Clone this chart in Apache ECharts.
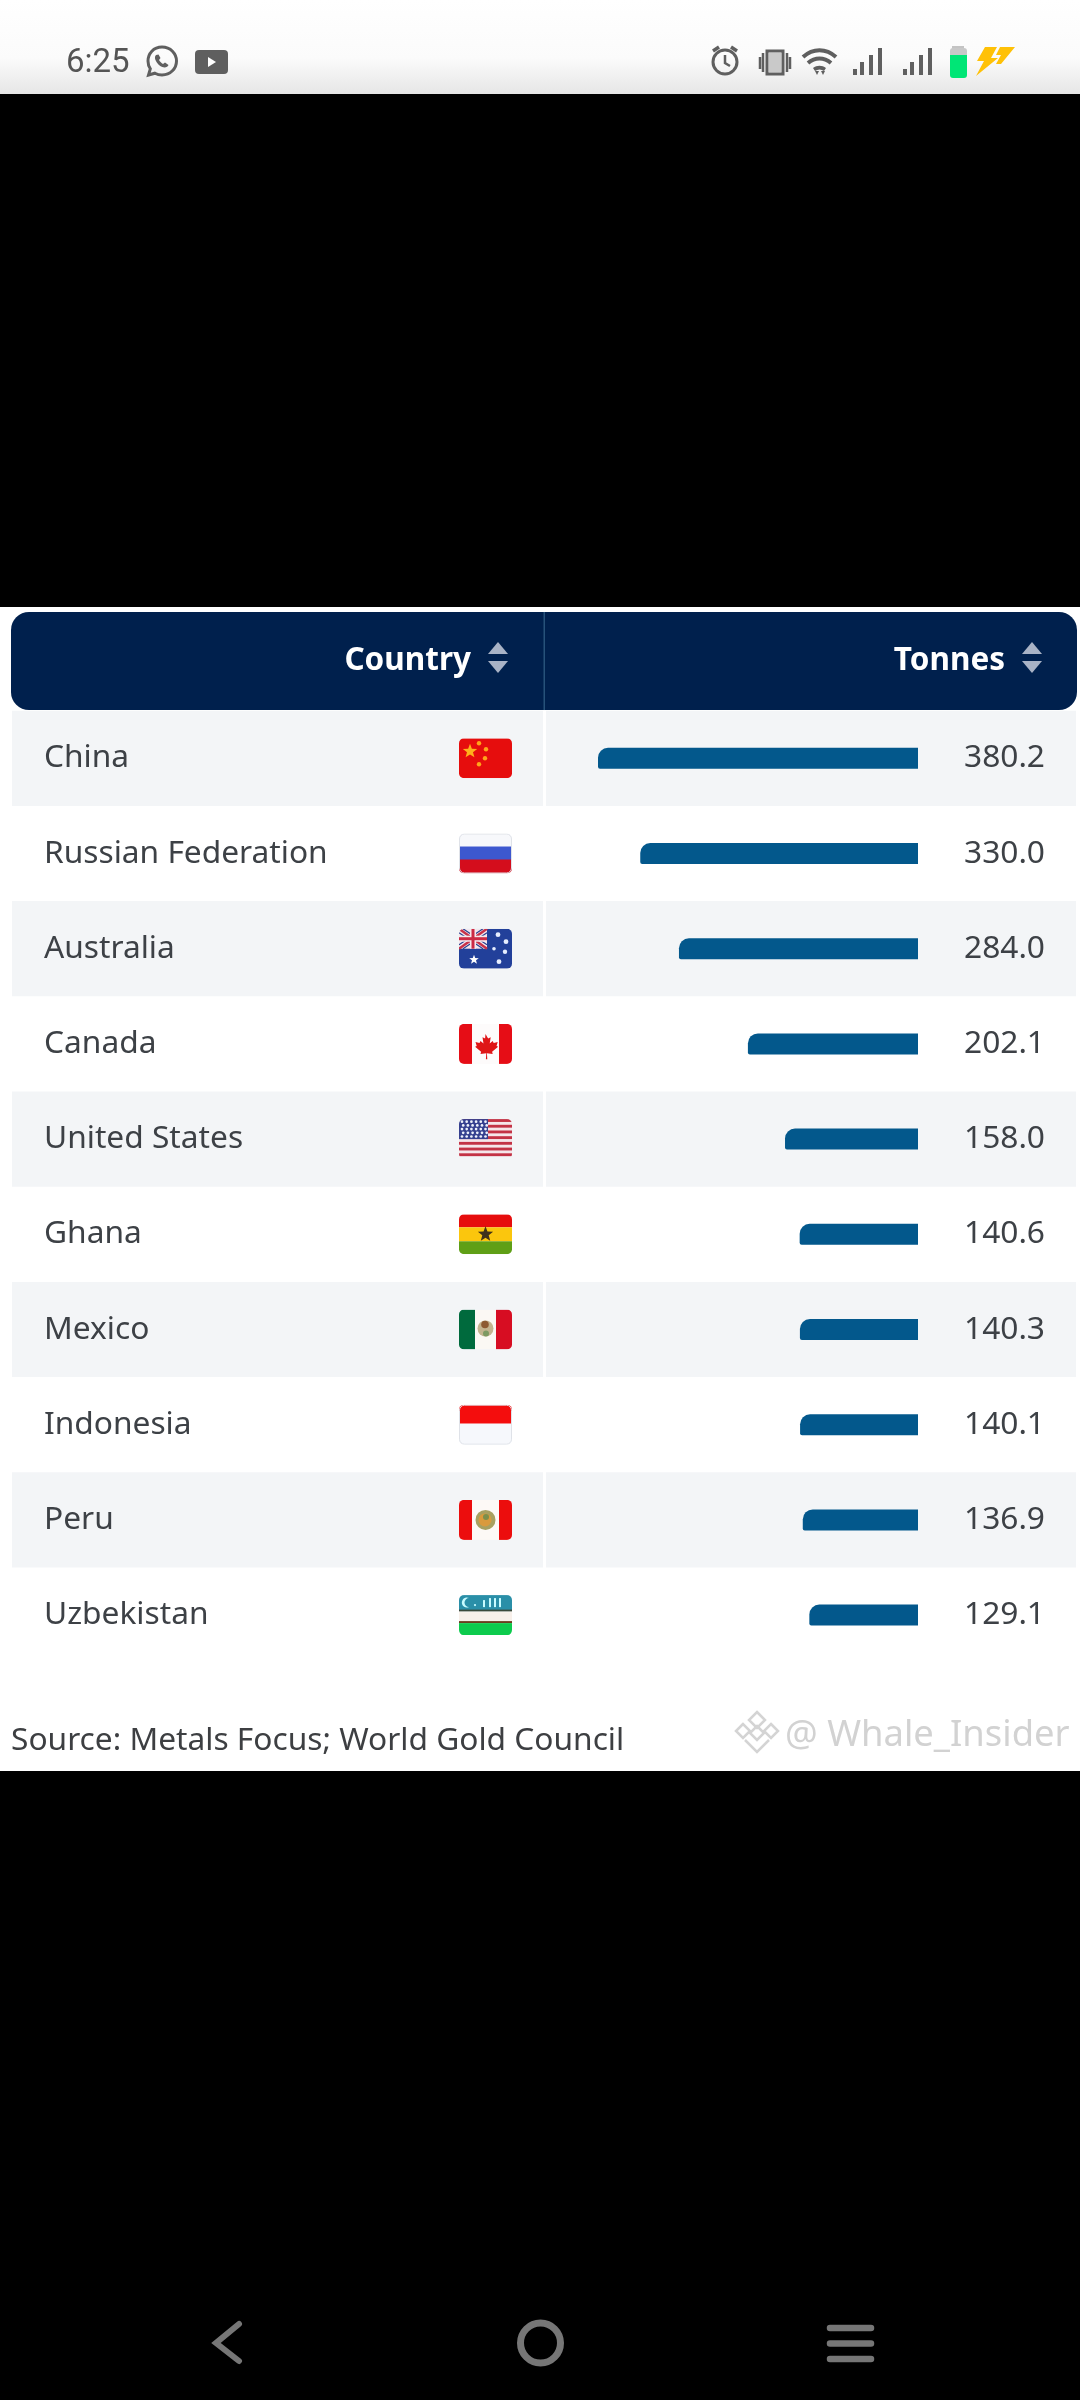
<!DOCTYPE html>
<html>
<head>
<meta charset="utf-8">
<script src="https://cdn.jsdelivr.net/npm/echarts@6/dist/echarts.min.js"></script>
<style>html,body{margin:0;padding:0;background:#000}#c{width:1080px;height:2400px}</style>
</head>
<body>
<div id="c"></div>
<script>
var countries = ['China','Russian Federation','Australia','Canada','United States','Ghana','Mexico','Indonesia','Peru','Uzbekistan'];
var tonnes = [380.2,330.0,284.0,202.1,158.0,140.6,140.3,140.1,136.9,129.1];
var flagCodes = ['cn','ru','au','ca','us','gh','mx','id','pe','uz'];
var headers = ['Country','Tonnes'];
var sourceText = 'Source: Metals Focus; World Gold Council';
var watermarkText = 'Whale_Insider';
var statusTime = '6:25';

var FONT = '"Noto Sans", sans-serif';
var TEXT = '#3d4146', ROW = '#f3f5f7', NAVY = '#00204d', BAR = '#03588c';
var ROW_TOP = 710.7, ROW_H = 95.2, GRID_L = 598, GRID_R = 918;

function star(cx, cy, r, fill) {
  var p = [];
  for (var i = 0; i < 10; i++) {
    var a = -Math.PI / 2 + i * Math.PI / 5, q = i % 2 ? r * 0.42 : r;
    p.push((cx + q * Math.cos(a)).toFixed(2) + ',' + (cy + q * Math.sin(a)).toFixed(2));
  }
  return '<polygon points="' + p.join(' ') + '" fill="' + fill + '"/>';
}
function R(x, y, w, h, f) { return '<rect x="' + x + '" y="' + y + '" width="' + w + '" height="' + h + '" fill="' + f + '"/>'; }
function C(x, y, r, f) { return '<circle cx="' + x + '" cy="' + y + '" r="' + r + '" fill="' + f + '"/>'; }

var flagArt = {
  cn: function () { return R(0,0,53,40,'#e60f0c') + star(11,13,7.5,'#ffb01a') + C(20,5,2.2,'#ffa51a') + C(27,11,2.2,'#ffa51a') + C(26,20,2.2,'#ffa51a') + C(20,26,2.2,'#ffa51a'); },
  ru: function () { return R(0,0,53,13,'#f7f8fb') + R(0,13,53,14,'#3e58cf') + R(0,26,53,14,'#d40b1a'); },
  au: function () {
    var s = R(0,0,53,40,'#23409a') + R(0,0,28,20,'#f3e6ec');
    s += '<path d="M0 0L28 20M28 0L0 20" stroke="#c8334a" stroke-width="2.5"/><path d="M0 4L24 20M4 0L28 16M28 4L4 20M24 0L0 16" stroke="#2a3f8f" stroke-width="1.2"/>';
    s += R(11,0,6,20,'#f5e9ee') + R(0,7,28,6,'#f5e9ee') + R(12.5,0,3,20,'#cc2c44') + R(0,8.5,28,3,'#cc2c44');
    return s + star(15,31,5,'#fff') + C(39,6,2.4,'#e6eeff') + C(47,13,2.4,'#e6eeff') + C(35,20,1.8,'#e6eeff') + C(46,23,2.2,'#e6eeff') + C(40,33,2.4,'#e6eeff');
  },
  ca: function () {
    return R(0,0,53,40,'#fdfbfb') + R(0,0,13,40,'#e60f14') + R(40,0,13,40,'#e60f14') +
      '<path d="M26.5 10l2.6 4.5 2.6-1.2-1 6.3 3-2.6 1 2 4-.8-1.2 3.8 1.6.9-6 5 .6 2.2-5.8-.8.4 6h-1.4l.4-6-5.8.8.6-2.2-6-5 1.6-.9-1.2-3.8 4 .8 1-2 3 2.6-1-6.3 2.6 1.2z" fill="#df1218"/>';
  },
  us: function () {
    var s = R(0,0,53,37,'#f5e6ea');
    for (var i = 0; i < 7; i++) s += R(0, i * 5.7, 53, 2.85, '#c33245');
    s += R(0,0,29,20,'#34418f');
    for (var r = 0; r < 5; r++) for (var c = 0; c < 6; c++) s += C(3 + c * 4.7 + (r % 2) * 1.2, 2.6 + r * 3.7, 1.35, '#eef1fb');
    return s;
  },
  gh: function () { return R(0,0,53,13,'#e60d0a') + R(0,13,53,14,'#fbc60a') + R(0,27,53,13,'#5e9f12') + star(26.5,20,8,'#40301a'); },
  mx: function () { return R(0,0,16,40,'#026a3c') + R(16,0,21,40,'#fbf8f4') + R(37,0,16,40,'#d70a22') + C(26.5,19,8,'#c3b48f') + C(26,15,3.8,'#8d5a32') + C(27,24,3,'#7d9a63'); },
  id: function () { return R(0,0,53,19,'#f40b0e') + R(0,19,53,21,'#f6f8fc'); },
  pe: function () { return R(0,0,13,40,'#ec0d10') + R(13,0,27,40,'#fdf9f6') + R(40,0,13,40,'#ec0d10') + C(26.5,20,10,'#a8a060') + C(26,20,6.5,'#d99a3c') + C(27,17,3,'#7c8f4c'); },
  uz: function () {
    var s = R(0,0,53,16,'#2a8fa8') + R(0,14.5,53,2,'#3a4a3a') + R(0,16.5,53,9.5,'#f8f0ea') + R(0,26,53,2,'#6a3d1a') + R(0,28,53,12,'#10cb4e');
    s += '<path d="M10 3a5 5 0 1 0 0 9a4 4 0 1 1 0-9z" fill="#c8fbff"/>';
    s += C(16,10,1.1,'#c8fbff') + R(24,5,2,7,'#c8fbff') + R(30,3,2,9,'#c8fbff') + R(35,3,2,9,'#c8fbff') + R(40,3,2,9,'#c8fbff');
    return s;
  }
};
function uri(svg) { return 'data:image/svg+xml;charset=utf-8,' + encodeURIComponent(svg); }
function flagSvg(code) {
  return uri('<svg xmlns="http://www.w3.org/2000/svg" width="212" height="160" viewBox="0 0 53 40">' +
    '<defs><clipPath id="k"><rect width="53" height="40" rx="5"/></clipPath><filter id="b" x="-5%" y="-5%" width="110%" height="110%"><feGaussianBlur stdDeviation="0.4"/></filter></defs>' +
    '<g clip-path="url(#k)"><g filter="url(#b)">' + flagArt[code]() + '</g></g>' +
    (code === 'id' || code === 'ru' ? '<rect x=".5" y=".5" width="52" height="39" rx="5" fill="none" stroke="#dfe2e8" stroke-width="1"/>' : '') +
    '</svg>');
}

var statusSvg = uri('<svg xmlns="http://www.w3.org/2000/svg" width="1080" height="94" viewBox="0 0 1080 94">' +
  '<g fill="none" stroke="#5f5f5f">' +
  '<path d="M162 47c-8.500 0-14 6.500-14 14 0 3 .8 5.500 2.300 7.800l-1.800 6.200 6.400-1.800c2.200 1.200 4.600 1.800 7.100 1.800 8.500 0 14.500-6.500 14.500-14s-6-14-14.500-14z" stroke-width="3"/>' +
  '<path d="M156 55c-1.500 1.500-1.500 4 .5 7 2 3 5 5.500 8 5.500 2 0 3.500-1 4-2.500l-3.500-2.500-2 1.500c-1.500-.8-3-2.500-4-4l1.500-2-2-3.500z" fill="#5f5f5f" stroke="none"/>' +
  '<circle cx="725" cy="62" r="12" stroke-width="3"/><path d="M725 55v8l5 3" stroke-width="2.500"/><path d="M713 51l6-4M737 51l-6-4" stroke-width="3.500"/>' +
  '<rect x="767" y="51" width="16" height="23" stroke-width="3"/><path d="M760 57v12M763 53v19M787 53v19M790 57v12" stroke-width="2.500"/>' +
  '<path d="M803 57c10-9 23-9 33 0M808 63c7-6 16-6 23 0" stroke-width="4"/>' +
  '</g>' +
  '<rect x="769" y="53" width="12" height="19" fill="#c9c9c9"/>' +
  '<path d="M813 68c4-3 9-3 13 0l-2 3c-3-2-6-2-9 0zM815 71h4l-2 4zM821 71h4l-2 4z" fill="#5f5f5f"/>' +
  '<rect x="195" y="50" width="33" height="24" rx="4" fill="#5f5f5f"/><path d="M208 57v10l8-5z" fill="#fff"/>' +
  R(853,69,4,6,'#5f5f5f') + R(860,62,4,13,'#5f5f5f') + R(869,55,4,20,'#5f5f5f') + R(878,48,4,27,'#5f5f5f') +
  R(903,69,4,6,'#5f5f5f') + R(910,62,4,13,'#5f5f5f') + R(919,55,4,20,'#5f5f5f') + R(928,48,4,27,'#5f5f5f') +
  '<rect x="952" y="46" width="12" height="3" fill="#c4c4c4"/><rect x="950" y="48" width="17" height="10" rx="3" fill="#c8c8c8"/>' +
  '<path d="M950 55h17v20a3 3 0 0 1-3 3h-11a3 3 0 0 1-3-3z" fill="#00e676"/>' +
  '<path d="M985 47h12l-6 11h7l-22 18 8-15h-7zM1000 47h15l-14 17h-5l5-9h-5z" fill="#ffc107"/>' +
  '</svg>');

var navSvg = uri('<svg xmlns="http://www.w3.org/2000/svg" width="1080" height="100" viewBox="0 0 1080 100">' +
  '<g fill="none" stroke="#767676" stroke-linecap="round">' +
  '<path d="M239 24L216 43L239 61" stroke-width="6"/>' +
  '<ellipse cx="540.500" cy="43" rx="20" ry="20" stroke-width="7"/>' +
  '<path d="M830 28h41M830 43.500h41M830 59h41" stroke-width="6.500"/></g></svg>');

var logoSvg = uri('<svg xmlns="http://www.w3.org/2000/svg" width="48" height="44" viewBox="0 0 48 44">' +
  '<g fill="none" stroke="#d4d4d4" stroke-width="2.500"><path d="M24 2L32 10L24 18L16 10Z"/><path d="M10 14L3 21L10 28L17 21ZM38 14L45 21L38 28L31 21Z"/><path d="M24 16L31 23L24 30L17 23Z"/><path d="M12 30L24 42L36 30"/></g></svg>');

var graphics = [];
graphics.push({ type: 'rect', silent: true, shape: { x: 0, y: 0, width: 1080, height: 94 },
  style: { fill: { type: 'linear', x: 0, y: 0, x2: 0, y2: 1, colorStops: [{ offset: 0, color: '#ffffff' }, { offset: .62, color: '#fbfbfb' }, { offset: 1, color: '#e6e6e6' }] } } });
graphics.push({ type: 'image', silent: true, style: { image: statusSvg, x: 0, y: 0, width: 1080, height: 94 } });
graphics.push({ type: 'text', silent: true, style: { text: statusTime, x: 66, y: 64, fill: '#555', font: '33px Roboto', verticalAlign: 'middle' } });
graphics.push({ type: 'rect', silent: true, shape: { x: 0, y: 607, width: 1080, height: 1164 }, style: { fill: '#fff' } });
graphics.push({ type: 'rect', silent: true, shape: { x: 11, y: 612, width: 1066, height: 98, r: 18 }, style: { fill: NAVY } });
graphics.push({ type: 'rect', silent: true, shape: { x: 543.5, y: 612, width: 1.5, height: 98 }, style: { fill: '#27527a' } });

function sortArrows(x) {
  graphics.push({ type: 'polygon', silent: true, shape: { points: [[x, 654], [x + 20, 654], [x + 10, 642]] }, style: { fill: '#a9b3c6' } });
  graphics.push({ type: 'polygon', silent: true, shape: { points: [[x, 661], [x + 20, 661], [x + 10, 673]] }, style: { fill: '#a9b3c6' } });
}
graphics.push({ type: 'text', silent: true, style: { text: headers[0], x: 471, y: 661, align: 'right', verticalAlign: 'middle', fill: '#fff', font: 'bold 31.5px ' + FONT } });
graphics.push({ type: 'text', silent: true, style: { text: headers[1], x: 1005, y: 661, align: 'right', verticalAlign: 'middle', fill: '#fff', font: 'bold 31.5px ' + FONT } });
sortArrows(488); sortArrows(1022);

countries.forEach(function (name, i) {
  var top = ROW_TOP + ROW_H * i;
  if (i % 2 === 0) {
    graphics.push({ type: 'rect', silent: true, shape: { x: 12, y: top, width: 531, height: ROW_H }, style: { fill: ROW } });
    graphics.push({ type: 'rect', silent: true, shape: { x: 546, y: top, width: 530, height: ROW_H }, style: { fill: ROW } });
  }
  graphics.push({ type: 'image', silent: true, z: 5, style: { image: flagSvg(flagCodes[i]), x: 459, y: top + ROW_H / 2 - 20, width: 53, height: 40 } });
});

graphics.push({ type: 'text', silent: true, style: { text: sourceText, x: 11, y: 1741, verticalAlign: 'middle', fill: '#3d3f42', font: '31.7px ' + FONT } });
graphics.push({ type: 'image', silent: true, style: { image: logoSvg, x: 733, y: 1710, width: 48, height: 44 } });
graphics.push({ type: 'text', silent: true, style: { text: '@ ' + watermarkText, x: 785, y: 1736, verticalAlign: 'middle', fill: '#d2d2d2', font: '36.4px ' + FONT } });
graphics.push({ type: 'image', silent: true, style: { image: navSvg, x: 0, y: 2300, width: 1080, height: 100 } });

var chart = echarts.init(document.getElementById('c'), null, { renderer: 'canvas', width: 1080, height: 2400 });
var labelBase = { fontFamily: FONT, fontSize: 31.7, color: TEXT, padding: [0, 0, 8, 0] };
chart.setOption({
  animation: false,
  backgroundColor: '#000',
  graphic: { elements: graphics.map(function (g) { if (g.z === undefined) g.z = 0; g.zlevel = 0; return g; }) },
  grid: { left: GRID_L, top: ROW_TOP, width: GRID_R - GRID_L, height: ROW_H * countries.length, containLabel: false },
  xAxis: { type: 'value', inverse: true, min: 0, max: 380.2, show: false },
  yAxis: [
    { type: 'category', inverse: true, position: 'left', data: countries,
      axisLine: { show: false, onZero: false }, axisTick: { show: false }, splitLine: { show: false },
      axisLabel: Object.assign({}, labelBase, { align: 'left', margin: 554, interval: 0 }) },
    { type: 'category', inverse: true, position: 'right', data: tonnes.map(function (v) { return v.toFixed(1); }),
      axisLine: { show: false, onZero: false }, axisTick: { show: false }, splitLine: { show: false },
      axisLabel: Object.assign({}, labelBase, { align: 'right', margin: 127, interval: 0 }) }
  ],
  series: [{ type: 'bar', data: tonnes, barWidth: 21, z: 3, silent: true,
    itemStyle: { color: BAR, borderRadius: [10, 0, 0, 2] } }]
});
</script>
</body>
</html>
